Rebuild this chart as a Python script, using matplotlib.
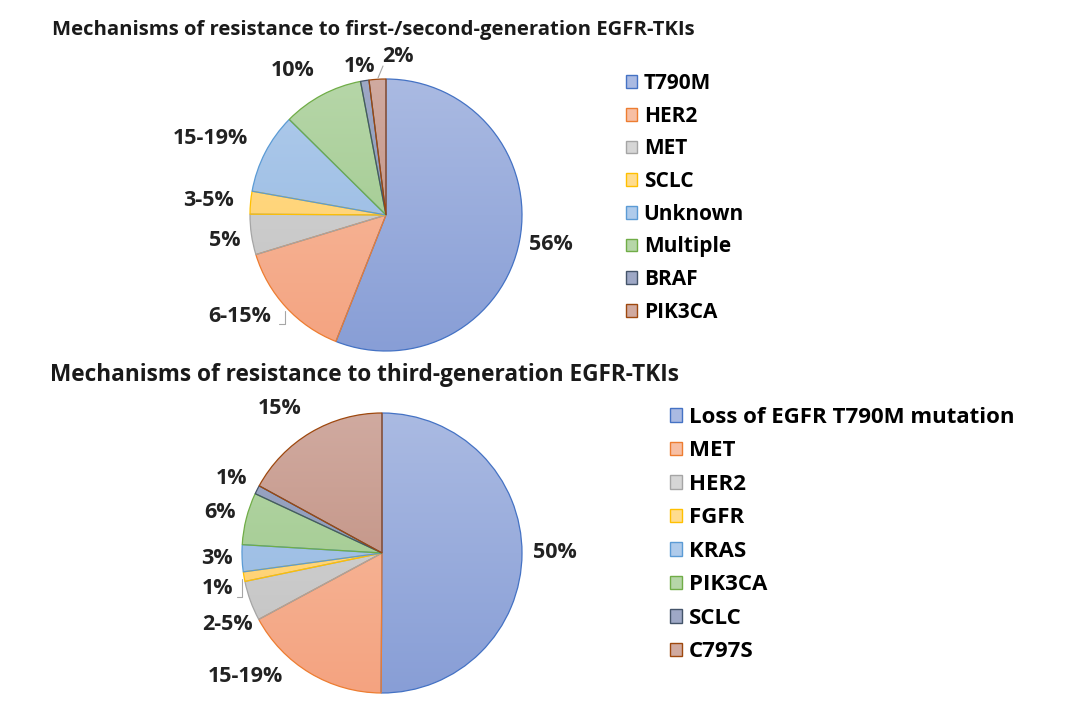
import matplotlib
matplotlib.use('Agg')
import matplotlib.pyplot as plt
import numpy as np
from matplotlib.colors import to_rgb
from matplotlib.patches import Patch

plt.rcParams['font.family'] = ['Open Sans', 'DejaVu Sans']

# first-/second-generation EGFR-TKIs
names_1 = ['T790M', 'HER2', 'MET', 'SCLC', 'Unknown', 'Multiple', 'BRAF', 'PIK3CA']
share_1 = [56, 14.3, 4.8, 2.7, 9.6, 9.6, 1, 2]
labels_1 = ['56%', '6-15%', '5%', '3-5%', '15-19%', '10%', '1%', '2%']

# third-generation EGFR-TKIs
names_3 = ['Loss of EGFR T790M mutation', 'MET', 'HER2', 'FGFR', 'KRAS',
           'PIK3CA', 'SCLC', 'C797S']
share_3 = [50, 17, 4.6, 1.1, 3.1, 6, 1, 17]
labels_3 = ['50%', '15-19%', '2-5%', '1%', '3%', '6%', '1%', '15%']

# office palette: edge colour, gradient top, gradient bottom
edge = ['#4472C4', '#ED7D31', '#A5A5A5', '#FFC000', '#5B9BD5', '#70AD47', '#44546A', '#9E480E']
top = ['#AABAE2', '#F7BFA4', '#D6D6D6', '#FFDC8E', '#AFCBEB', '#B6D6A8', '#9EA8C6', '#D0AAA0']
bot = ['#889ED6', '#F4A380', '#C2C2C2', '#FFCE66', '#92B6E1', '#9AC787', '#8390B3', '#BD8877']

W, H = 1080, 709


def gradient_pie(ax, values, center, radius):
    wedges, _ = ax.pie(values, startangle=90, counterclock=False,
                       center=center, radius=radius,
                       wedgeprops=dict(facecolor='none', linewidth=0.9))
    cx, cy = center
    g = np.linspace(0, 1, 256)[:, None, None]
    for w, ec, c0, c1 in zip(wedges, edge, top, bot):
        w.set_edgecolor(ec)
        img = np.array(to_rgb(c0)) * (1 - g) + np.array(to_rgb(c1)) * g
        im = ax.imshow(img, extent=(cx - radius, cx + radius, cy - radius, cy + radius),
                       origin='upper', aspect='auto', zorder=0.5)
        im.set_clip_path(w)
    return wedges


fig = plt.figure(figsize=(W / 100, H / 100), dpi=100)
ax = fig.add_axes([0, 0, 1, 1])

# pie centres / radius in pixel units (y measured from top)
gradient_pie(ax, share_1, (386, H - 215), 136)
gradient_pie(ax, share_3, (382, H - 553), 140)

# data labels (pixel positions from top-left)
pos_1 = [(551, 245), (240, 317), (225, 240), (209, 200), (210, 139), (293, 70), (360, 67), (398, 57)]
pos_3 = [(555, 553), (245, 677), (227, 625), (218, 589), (217, 558), (220, 513), (232, 478), (280, 408)]
for txt, (px, py) in zip(labels_1 + labels_3, pos_1 + pos_3):
    ax.text(px, H - py, txt, ha='center', va='center', fontsize=15.5,
            fontweight='bold', color='#222222')

# leader lines
lead = dict(arrowstyle='-', color='#a6a6a6', lw=0.8, shrinkA=0, shrinkB=0)
ax.annotate('', xy=(285, H - 311), xytext=(279, H - 324),
            arrowprops=dict(lead, connectionstyle='angle,angleA=0,angleB=90,rad=0'))
ax.annotate('', xy=(383, H - 66), xytext=(378, H - 78), arrowprops=lead)
ax.annotate('', xy=(242, H - 579), xytext=(237, H - 597),
            arrowprops=dict(lead, connectionstyle='angle,angleA=0,angleB=90,rad=0'))

# titles
ax.text(52, H - 30, 'Mechanisms of resistance to first-/second-generation EGFR-TKIs',
        ha='left', va='center', fontsize=14.6, fontweight='bold', color='#1a1a1a')
ax.text(50, H - 375, 'Mechanisms of resistance to third-generation EGFR-TKIs',
        ha='left', va='center', fontsize=16.3, fontweight='bold', color='#1a1a1a')


# legends
def make_legend(names, anchor, size, spacing):
    handles = [Patch(facecolor=c, edgecolor=ec, linewidth=1) for c, ec in zip(top, edge)]
    return ax.legend(handles, names, loc='upper left', bbox_to_anchor=anchor,
                     bbox_transform=ax.transData, frameon=False,
                     handlelength=0.55, handleheight=0.55, handletextpad=0.3,
                     labelspacing=spacing, borderpad=0, borderaxespad=0,
                     prop=dict(size=size, weight='bold'))


leg1 = make_legend(names_1, (626, H - 73), 15, 0.56)
ax.add_artist(leg1)
make_legend(names_3, (670, H - 407), 16, 0.56)

ax.set_xlim(0, W)
ax.set_ylim(0, H)
ax.set_aspect('equal')
ax.axis('off')

fig.savefig('out.png', dpi=100, facecolor='white')
